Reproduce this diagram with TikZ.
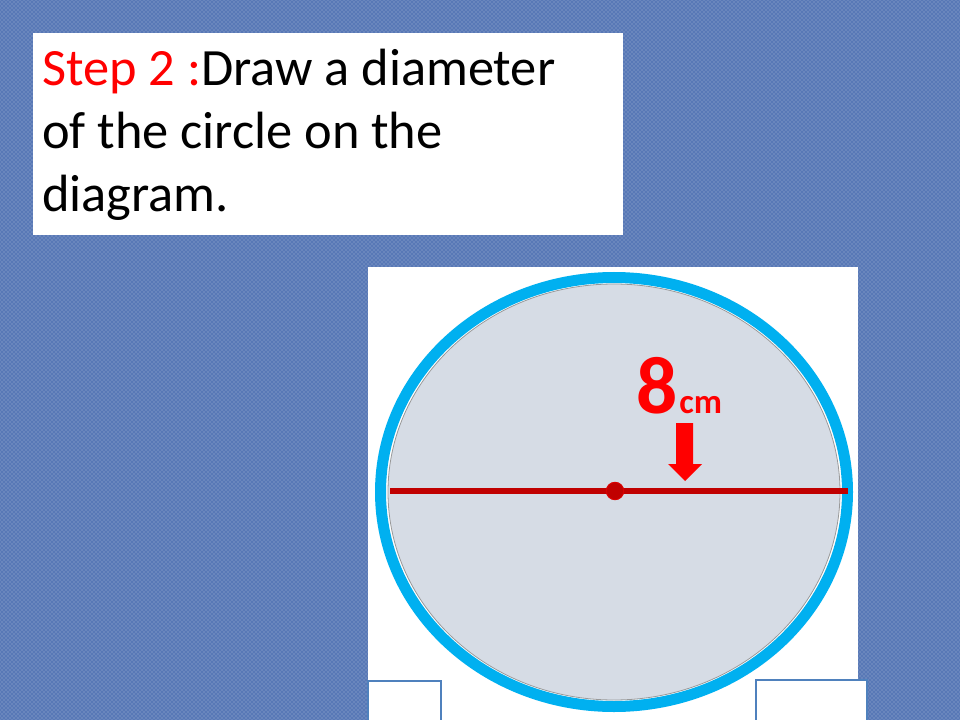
\documentclass[tikz,border=0pt]{standalone}
\usepackage{fontspec}
\setmainfont{Carlito}
\usepackage{tikz}
\usetikzlibrary{patterns}
\definecolor{slideblue}{RGB}{88,120,182}
\definecolor{boxblue}{RGB}{79,129,189}
\definecolor{ringblue}{RGB}{0,176,240}
\definecolor{discgray}{RGB}{214,220,229}
\definecolor{darkred}{RGB}{192,0,0}
\tikzset{
  stepline/.style={anchor=base west, inner sep=0pt, font=\fontsize{39.3}{47}\selectfont},
  labelbox/.style={fill=white, draw=boxblue, line width=1.5pt}
}

\begin{document}
\begin{tikzpicture}[x=0.75pt, y=-0.75pt]
\useasboundingbox (0,0) rectangle (960,720);
\fill[slideblue] (0,0) rectangle (960,720);
\fill[pattern=crosshatch dots, pattern color=slideblue!55!white] (0,0) rectangle (960,720);
% text panel
\fill[white] (33,33) rectangle (623,235);
\node[stepline] (line1) at (42,86) {\textcolor{red}{Step 2 :}Draw a diameter};
\node[stepline] (line2) at (42,149) {of the circle on the};
\node[stepline] (line3) at (42,212) {diagram.};
% picture panel
\fill[white] (368,267) rectangle (858,720);
\fill[discgray, draw=gray!80, line width=0.6pt] (614,492) ellipse [x radius=226, y radius=208];
\draw[ringblue, line width=8.25pt] (614,492) ellipse [x radius=233.5, y radius=214.5];
\coordinate (dleft) at (390,491);
\coordinate (dright) at (848,491);
\draw[darkred, line width=4.5pt] (dleft) -- (dright);
\node[circle, fill=darkred, draw=red!85!black, line width=0.8pt, minimum size=13pt, inner sep=0pt] (centre) at (615,491) {};
% length label
\node[anchor=base west, inner sep=0pt, text=red, font=\fontsize{61}{61}\selectfont\bfseries] (eight) at (636,413) {8};
\node[anchor=base west, inner sep=0pt, text=red, font=\fontsize{26}{26}\selectfont\bfseries] (unit) at ([xshift=1pt]eight.base east) {cm};
\fill[red] (676,423) -- (693,423) -- (693,464) -- (702,464) -- (685,481) -- (668,464) -- (676,464) -- cycle;
% answer boxes
\draw[labelbox] (368,681) rectangle (441,723);
\draw[labelbox] (756,680) rectangle (867,723);
\end{tikzpicture}
\end{document}
